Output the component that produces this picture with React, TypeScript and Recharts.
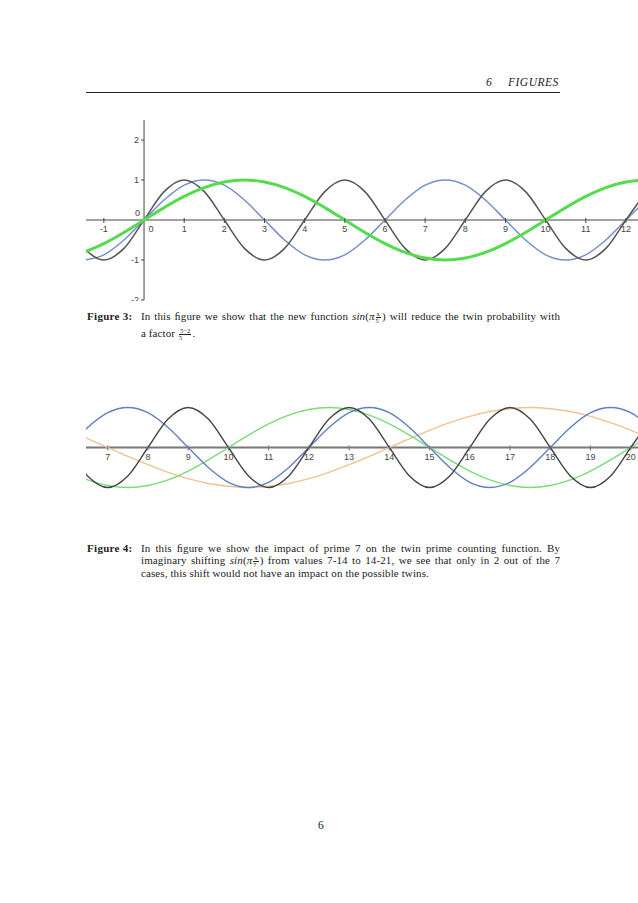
import React from 'react';
import { LineChart, Line, XAxis, YAxis, ReferenceLine } from 'recharts';

// figure 3 values at half-unit steps
const fig3X = [-1.5, -1, -0.5, 0, 0.5, 1, 1.5, 2, 2.5, 3, 3.5, 4, 4.5, 5, 5.5, 6, 6.5, 7, 7.5, 8, 8.5, 9, 9.5, 10, 10.5, 11, 11.5, 12, 12.5];
const fig3Black = [-0.71, -1, -0.71, 0, 0.71, 1, 0.71, 0, -0.71, -1, -0.71, 0, 0.71, 1, 0.71, 0, -0.71, -1, -0.71, 0, 0.71, 1, 0.71, 0, -0.71, -1, -0.71, 0, 0.71];
const fig3Blue = [-1, -0.87, -0.5, 0, 0.5, 0.87, 1, 0.87, 0.5, 0, -0.5, -0.87, -1, -0.87, -0.5, 0, 0.5, 0.87, 1, 0.87, 0.5, 0, -0.5, -0.87, -1, -0.87, -0.5, 0, 0.5];
const fig3Green = [-0.81, -0.59, -0.31, 0, 0.31, 0.59, 0.81, 0.95, 1, 0.95, 0.81, 0.59, 0.31, 0, -0.31, -0.59, -0.81, -0.95, -1, -0.95, -0.81, -0.59, -0.31, 0, 0.31, 0.59, 0.81, 0.95, 1];
const fig3XTicks = [-1, 0, 1, 2, 3, 4, 5, 6, 7, 8, 9, 10, 11, 12];
const fig3YTicks = [-2, -1, 0, 1, 2];

// figure 4 values
const fig4X = [6, 6.5, 7, 7.5, 8, 8.5, 9, 9.5, 10, 10.5, 11, 11.5, 12, 12.5, 13, 13.5, 14, 14.5, 15, 15.5, 16, 16.5, 17, 17.5, 18, 18.5, 19, 19.5, 20, 20.5];
const fig4Black = [0, -0.71, -1, -0.71, 0, 0.71, 1, 0.71, 0, -0.71, -1, -0.71, 0, 0.71, 1, 0.71, 0, -0.71, -1, -0.71, 0, 0.71, 1, 0.71, 0, -0.71, -1, -0.71, 0, 0.71];
const fig4Blue = [0, 0.5, 0.87, 1, 0.87, 0.5, 0, -0.5, -0.87, -1, -0.87, -0.5, 0, 0.5, 0.87, 1, 0.87, 0.5, 0, -0.5, -0.87, -1, -0.87, -0.5, 0, 0.5, 0.87, 1, 0.87, 0.5];
const fig4Green = [-0.59, -0.81, -0.95, -1, -0.95, -0.81, -0.59, -0.31, 0, 0.31, 0.59, 0.81, 0.95, 1, 0.95, 0.81, 0.59, 0.31, 0, -0.31, -0.59, -0.81, -0.95, -1, -0.95, -0.81, -0.59, -0.31, 0, 0.31];
const fig4Orange = [0.43, 0.22, 0, -0.22, -0.43, -0.62, -0.78, -0.9, -0.97, -1, -0.97, -0.9, -0.78, -0.62, -0.43, -0.22, 0, 0.22, 0.43, 0.62, 0.78, 0.9, 0.97, 1, 0.97, 0.9, 0.78, 0.62, 0.43, 0.22];
const fig4XTicks = [7, 8, 9, 10, 11, 12, 13, 14, 15, 16, 17, 18, 19, 20];

const fig3Rows = fig3X.map((x, i) => ({ x, black: fig3Black[i], blue: fig3Blue[i], green: fig3Green[i] }));
const fig4Rows = fig4X.map((x, i) => ({ x, black: fig4Black[i], blue: fig4Blue[i], green: fig4Green[i], orange: fig4Orange[i] }));

const serif = '"Liberation Serif", "Times New Roman", serif';
const labelFont = '"Liberation Sans", Arial, sans-serif';

interface Series { key: string, color: string, width: number }

interface PlotProps {
  rows: any[]
  series: Series[]
  xDomain: [number, number]
  yDomain: [number, number]
  xTicks: number[]
  yTicks?: number[]
  width: number   // plot area
  height: number  // plot area
  axisColor: string
  axisWidth: number
}

// the axes get 1px each (recharts skips a 0-sized axis), ticks are drawn at the zero lines
const Plot = (props: PlotProps) => {
  const { width, height, xDomain, yDomain } = props
  const zeroY = height * yDomain[1] / (yDomain[1] - yDomain[0])
  const zeroX = 1 + width * (0 - xDomain[0]) / (xDomain[1] - xDomain[0])
  const hasY = !!props.yTicks

  const XTick = (p: any) => {
    const v = p.payload.value
    const x = p.x
    if (v === 0) {
      return <text x={x + 7} y={zeroY + 12} textAnchor="middle" fontSize={9} fontFamily={labelFont} fill="#444">0</text>
    }
    return (
      <g>
        <line x1={x} x2={x} y1={zeroY - 2} y2={zeroY + 3} stroke={props.axisColor} strokeWidth={1} />
        <text x={x} y={zeroY + 12} textAnchor="middle" fontSize={9} fontFamily={labelFont} fill="#444">{v}</text>
      </g>
    )
  }

  const YTick = (p: any) => {
    const v = p.payload.value
    const y = p.y
    if (v === 0) {
      return <text x={zeroX - 4} y={zeroY - 4} textAnchor="end" fontSize={9} fontFamily={labelFont} fill="#444">0</text>
    }
    return (
      <g>
        <line x1={zeroX - 3} x2={zeroX} y1={y} y2={y} stroke={props.axisColor} strokeWidth={1} />
        <text x={zeroX - 5} y={y + 3} textAnchor="end" fontSize={9} fontFamily={labelFont} fill="#444">{v}</text>
      </g>
    )
  }

  return (
    <LineChart width={width + 1} height={height + 1} data={props.rows} margin={{ top: 0, right: 0, bottom: 0, left: 0 }}
      style={{ overflow: 'visible' }}>
      <XAxis dataKey="x" type="number" domain={xDomain} allowDataOverflow ticks={props.xTicks} interval={0}
        height={1} axisLine={false} tickLine={false} tick={XTick} />
      <YAxis type="number" domain={yDomain} allowDataOverflow ticks={props.yTicks || [0]} interval={0}
        width={1} axisLine={false} tickLine={false} tick={hasY ? YTick : false} />
      <ReferenceLine y={0} stroke={props.axisColor} strokeWidth={props.axisWidth} />
      {hasY && <ReferenceLine x={0} stroke={props.axisColor} strokeWidth={props.axisWidth} />}
      {props.series.map(s => (
        <Line key={s.key} dataKey={s.key} type="monotone" stroke={s.color} strokeWidth={s.width}
          dot={false} activeDot={false} isAnimationActive={false} />
      ))}
    </LineChart>
  )
}

const Frac = ({ top, bottom }: { top: string, bottom: string }) => (
  <span style={{ display: 'inline-block', verticalAlign: 'middle', textAlign: 'center', fontSize: 6.5, lineHeight: '6px', margin: '-1px 1px' }}>
    <span style={{ display: 'block', borderBottom: '0.6px solid #222', padding: '0 1px' }}>{top}</span>
    <span style={{ display: 'block' }}>{bottom}</span>
  </span>
)

const lineStyle = (top: number, justify: boolean): React.CSSProperties => ({
  position: 'absolute', left: 141, top, width: 419, height: 12, whiteSpace: 'nowrap',
  textAlign: justify ? 'justify' : 'left', textAlignLast: justify ? 'justify' : 'left',
  fontSize: 11, lineHeight: '12px', fontFamily: serif, color: '#222', letterSpacing: 0.1
})

const labelStyle = (top: number): React.CSSProperties => ({
  position: 'absolute', left: 87, top, fontSize: 11, lineHeight: '12px', fontFamily: serif, fontWeight: 'bold', color: '#222', letterSpacing: 0.3
})

export default function App() {
  return (
    <div style={{ position: 'absolute', left: 0, top: 0, width: 638, height: 903, overflow: 'hidden', background: '#fff' }}>
      {/* running head */}
      <div style={{ position: 'absolute', left: 486, top: 76, fontFamily: serif, fontStyle: 'italic', fontSize: 11.5, color: '#222' }}>6</div>
      <div style={{ position: 'absolute', left: 508, top: 76, fontFamily: serif, fontStyle: 'italic', fontSize: 11.5, color: '#222', whiteSpace: 'nowrap', letterSpacing: 0.5 }}>FIGURES</div>
      <div style={{ position: 'absolute', left: 86, top: 92, width: 474, height: 1, background: '#222' }} />

      <div style={{ position: 'absolute', left: 85, top: 120 }}>
        <Plot rows={fig3Rows}
          series={[
            { key: 'blue', color: '#7391c8', width: 1.5 },
            { key: 'black', color: '#555555', width: 1.5 },
            { key: 'green', color: '#55dc4e', width: 3 }
          ]}
          xDomain={[-1.445, 12.3]} yDomain={[-2, 2.5]} xTicks={fig3XTicks} yTicks={fig3YTicks}
          width={552} height={180} axisColor="#444" axisWidth={1} />
      </div>

      <div style={labelStyle(310)}>Figure 3:</div>
      <div style={lineStyle(310, true)}>
        In this ﬁgure we show that the new function <i>sin</i>(<i>π</i><Frac top="x" bottom="5" />) will reduce the twin probability with
      </div>
      <div style={lineStyle(327, false)}>
        a factor <Frac top="5−2" bottom="5" />.
      </div>

      <div style={{ position: 'absolute', left: 85, top: 395 }}>
        <Plot rows={fig4Rows}
          series={[
            { key: 'orange', color: '#f3c193', width: 1.4 },
            { key: 'green', color: '#79dc79', width: 1.4 },
            { key: 'blue', color: '#5f80c2', width: 1.4 },
            { key: 'black', color: '#454545', width: 1.4 }
          ]}
          xDomain={[6.46, 20.18]} yDomain={[-1.3125, 1.3125]} xTicks={fig4XTicks}
          width={552} height={105} axisColor="#777" axisWidth={2} />
      </div>

      <div style={labelStyle(542)}>Figure 4:</div>
      <div style={lineStyle(542, true)}>
        In this ﬁgure we show the impact of prime 7 on the twin prime counting function.  By
      </div>
      <div style={lineStyle(554, true)}>
        imaginary shifting <i>sin</i>(<i>π</i><Frac top="x" bottom="7" />) from values 7-14 to 14-21, we see that only in 2 out of the 7
      </div>
      <div style={lineStyle(567, false)}>
        cases, this shift would not have an impact on the possible twins.
      </div>

      <div style={{ position: 'absolute', left: 318, top: 819, fontFamily: serif, fontSize: 11.5, color: '#222' }}>6</div>
    </div>
  )
}
